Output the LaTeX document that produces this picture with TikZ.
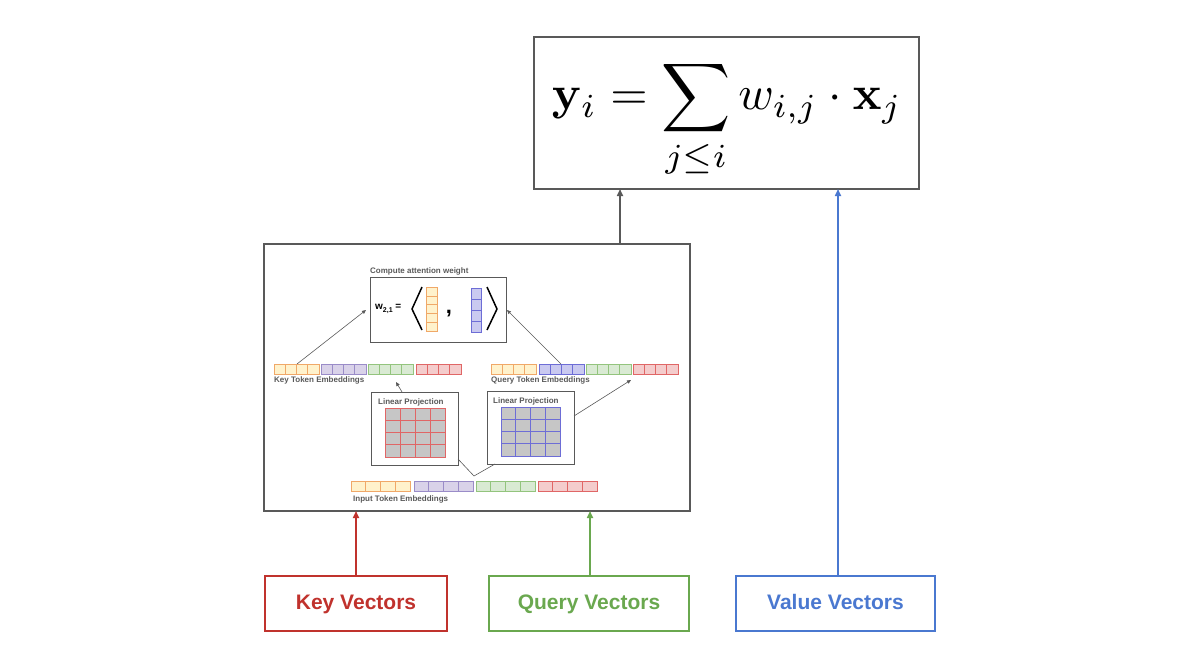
\documentclass[tikz,border=0pt]{standalone}
\usepackage{amsmath}
\usepackage{bm}
\usepackage[no-math]{fontspec}
\setmainfont{Liberation Sans}
\usetikzlibrary{arrows.meta}
\definecolor{kred}{HTML}{C0322D}
\definecolor{qgreen}{HTML}{6AA84F}
\definecolor{vblue}{HTML}{4A78D0}
\definecolor{dgray}{HTML}{595959}
\definecolor{yF}{HTML}{FFF2CC}\definecolor{yD}{HTML}{F0A868}
\definecolor{pF}{HTML}{D9D2E9}\definecolor{pD}{HTML}{9A8CC8}
\definecolor{gF}{HTML}{D9EAD3}\definecolor{gD}{HTML}{93C47D}
\definecolor{rF}{HTML}{F4CCCC}\definecolor{rD}{HTML}{E06666}
\definecolor{bF}{HTML}{C9C9F0}\definecolor{bD}{HTML}{6D6DD6}
\newcommand\myrow[6]{% x y cellw h fill draw
 \foreach \k in {0,...,3}{\draw[#6,fill=#5,line width=0.6pt] ({#1+\k*#3},#2) rectangle ++(#3,#4);}}
\tikzset{box/.style={draw=dgray,line width=1.2pt},
 ibox/.style={draw=dgray,line width=0.8pt},
 arr/.style={-{Triangle[length=7pt,width=6pt]},line width=1.6pt},
 iarr/.style={-{Triangle[length=4pt,width=3.5pt]},draw=dgray,line width=0.6pt},
 lab/.style={font=\fontsize{8}{9}\selectfont\bfseries,text=dgray,anchor=west,inner sep=0},
 vlab/.style={font=\fontsize{21}{24}\selectfont\bfseries,line width=1.6pt,text height=15pt,text depth=4pt}}
\begin{document}
\begin{tikzpicture}[x=1pt,y=-1pt]
\useasboundingbox (0,0) rectangle (1200,672);
% formula
\draw[box] (534,37) rectangle (919,189);
\coordinate (ftop) at (620,189);
\coordinate (fval) at (838,189);
\node[inner sep=0] (f) at (727,119) {\scalebox{4.8}{$\displaystyle \mathbf{y}_i=\sum_{j\le i} w_{i,j}\cdot\mathbf{x}_j$}};
% inner box
\draw[box] (264,244) rectangle (690,511);
\coordinate (itop) at (620,244);
\coordinate (ik) at (356,511);
\coordinate (iq) at (590,511);
\draw[arr,dgray] (itop) -- (ftop);
% compute attention
\node[lab] at (370,271) {Compute attention weight};
\draw[ibox] (370,277) rectangle (506,342);
\node[font=\fontsize{10}{12}\selectfont\bfseries,anchor=west,inner sep=0] at (375,309) {w\raisebox{-3pt}{\fontsize{7}{8}\selectfont\bfseries 2,1} =};
\draw[line width=1.5pt] (422,287) -- (412,309) -- (422,330);
\draw[line width=1.5pt] (487,287) -- (497,309) -- (487,330);
\foreach \k in {0,...,4}{\draw[yD,fill=yF,line width=0.6pt] (426,{287+\k*8.8}) rectangle ++(11,8.8);}
\foreach \k in {0,...,3}{\draw[bD,fill=bF,line width=0.6pt] (471,{288+\k*11}) rectangle ++(10,11);}
\node[font=\fontsize{22}{22}\selectfont\bfseries] at (449,314) {,};
% key embeddings
\myrow{274}{364}{11.25}{10}{yF}{yD}
\myrow{321}{364}{11.25}{10}{pF}{pD}
\myrow{368}{364}{11.25}{10}{gF}{gD}
\myrow{416}{364}{11.25}{10}{rF}{rD}
\node[lab] at (274,380) {Key Token Embeddings};
% query embeddings
\myrow{491}{364}{11.25}{10}{yF}{yD}
\myrow{539}{364}{11.25}{10}{bF}{bD}
\myrow{586}{364}{11.25}{10}{gF}{gD}
\myrow{633}{364}{11.25}{10}{rF}{rD}
\node[lab] at (491,380) {Query Token Embeddings};
% linear projections
\draw[ibox,fill=white] (371,392) rectangle (458,465);
\node[lab] at (378,402) {Linear Projection};
\foreach \i in {0,...,3}\foreach \j in {0,...,3}{\draw[rD,fill=gray!45,line width=0.6pt] ({385+\i*15},{408+\j*12.25}) rectangle ++(15,12.25);}
\draw[ibox,fill=white] (487,391) rectangle (574,464);
\node[lab] at (493,401) {Linear Projection};
\foreach \i in {0,...,3}\foreach \j in {0,...,3}{\draw[bD,fill=gray!45,line width=0.6pt] ({501+\i*14.75},{407+\j*12.25}) rectangle ++(14.75,12.25);}
% input embeddings
\myrow{351}{481}{14.75}{10}{yF}{yD}
\myrow{414}{481}{14.75}{10}{pF}{pD}
\myrow{476}{481}{14.75}{10}{gF}{gD}
\myrow{538}{481}{14.75}{10}{rF}{rD}
\node[lab] at (353,499) {Input Token Embeddings};
% inner arrows
\draw[iarr] (297,364) -- (366,310);
\draw[iarr] (561,364) -- (507,310);
\draw[iarr] (402,392) -- (396,382);
\draw[iarr] (574,416) -- (631,380);
\draw[dgray,line width=0.6pt] (458,459) -- (474,476) -- (495,464);
% bottom boxes
\node[vlab,draw=kred,text=kred,minimum width=182pt,minimum height=55pt] (kv) at (356,603.5) {Key Vectors};
\node[vlab,draw=qgreen,text=qgreen,minimum width=200pt,minimum height=55pt] (qv) at (589,603.5) {Query Vectors};
\node[vlab,draw=vblue,text=vblue,minimum width=199pt,minimum height=55pt] (vv) at (835.5,603.5) {Value Vectors};
\draw[arr,kred] (kv.north) -- (ik);
\draw[arr,qgreen] (qv.north -| iq) -- (iq);
\draw[arr,vblue] (vv.north -| fval) -- (fval);
\end{tikzpicture}
\end{document}
